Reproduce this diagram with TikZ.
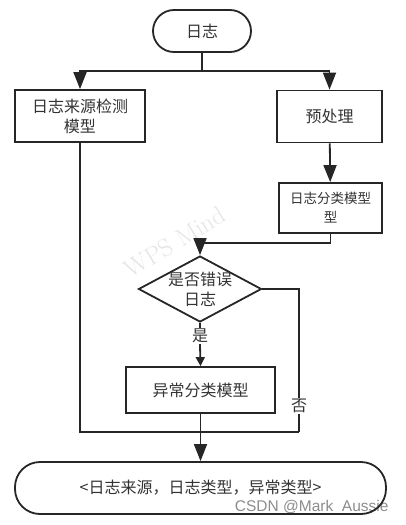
\documentclass[tikz,border=0pt]{standalone}
\usepackage{fontspec}
\newfontfamily\cjk{Noto Sans CJK SC}
\newfontfamily\wmark{Liberation Sans}
\usetikzlibrary{arrows.meta,positioning,shapes.geometric}

\begin{document}
\begin{tikzpicture}[
x=1pt,y=-1pt,
font=\cjk\fontsize{16}{20}\selectfont,
text=black!80,
process/.style={draw=black!85,line width=1.8pt,minimum height=52pt,align=center,inner sep=2pt},
terminal/.style={process,rounded corners=21pt},
decision/.style={diamond,draw=black!85,line width=1.8pt,minimum width=123pt,minimum height=66pt,aspect=1.86,inner sep=-9pt,align=center},
link/.style={draw=black!85,line width=1.8pt},
flow/.style={link,-{Triangle[length=17pt,width=13pt]}},
shortflow/.style={link,-{Triangle[length=9pt,width=9pt]}}
]
    % Bounding box
    \useasboundingbox (0,0) rectangle (406,525);

    % Watermarks
    \node (wps) [rotate=31,text=black!10,font=\fontsize{25}{25}\selectfont\rmfamily] at (175,242) {WPS Mind};
    \node (csdn) [anchor=east,text=black!45,font=\wmark\fontsize{15.5}{16}\selectfont] at (392,507) {CSDN @Mark\_Aussie};

    % Nodes
    \node (log) [terminal,minimum width=98pt,minimum height=42pt] at (202,31) {日志};
    \node (src) [process,minimum width=130pt] at (80,116) {日志来源检测\\模型};
    \node (pre) [process,minimum width=105pt] at (329.5,116.5) {预处理};
    \node (cls) [process,minimum width=103pt,minimum height=50pt,font=\cjk\fontsize{13.5}{19}\selectfont] at (330.5,208) {日志分类模型\\型};
    \node (err) [decision] at (200,289) {是否错误\\日志};
    \node (anom) [process,minimum width=149pt,minimum height=46pt] at (200.5,390) {异常分类模型};
    \node (res) [terminal,minimum width=371pt,rounded corners=25pt] at (200.5,488) {<日志来源，日志类型，异常类型>};

    \coordinate (split) at (202,71);
    \coordinate (join) at (200,243);
    \coordinate (merge) at (299,432);

    % Connectors
    \draw[link] (log) -- (split);
    \draw[flow] (split) -| (src);
    \draw[flow] (split) -| (pre);
    \draw[flow] (pre) -- (cls);
    \draw[flow] (cls.south) |- (join) -- (err.north);
    \draw[link] (err.south) -- node (yes) [fill=white,inner sep=1pt,pos=0.5] {是} ++(0,26);
    \draw[shortflow] (yes.south) -- (anom.north);
    \draw[link] (src.south) |- (merge);
    \draw[link] (err.east) -| node (no) [fill=white,inner sep=1pt,pos=0.91] {否} (merge);
    \draw[flow] (anom) -- (res);
\end{tikzpicture}
\end{document}
